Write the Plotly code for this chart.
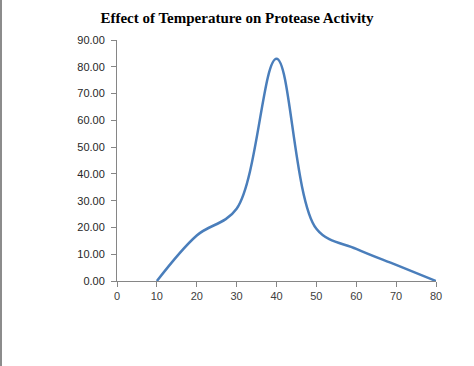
import plotly.graph_objects as go

temperature = [10, 20, 30, 40, 50, 60, 70, 80]
activity = [0.0, 17.0, 27.0, 83.0, 19.5, 12.0, 6.0, 0.0]
y_ticks = [0, 10, 20, 30, 40, 50, 60, 70, 80, 90]
x_ticks = [0, 10, 20, 30, 40, 50, 60, 70, 80]

fig = go.Figure()
fig.add_trace(go.Scatter(
    x=temperature, y=activity, mode="lines",
    line=dict(color="#4A7EBB", width=2.5, shape="spline", smoothing=1.0),
    hoverinfo="skip",
))

W, H = 474, 366
L, R, T, B = 117, 38, 40, 85
pw, ph = W - L - R, H - T - B

fig.update_layout(
    width=W, height=H, autosize=False,
    margin=dict(l=L, r=R, t=T, b=B),
    paper_bgcolor="white", plot_bgcolor="white",
    showlegend=False,
    title=dict(
        text="Effect of Temperature on Protease Activity",
        font=dict(family="Liberation Serif", size=15, color="black", weight="bold"),
        x=237 / W, xanchor="center", xref="container",
        y=1 - 18 / H, yanchor="middle", yref="container",
    ),
    xaxis=dict(
        range=[0, 80], tickvals=x_ticks, ticktext=[str(v) for v in x_ticks],
        showgrid=False, zeroline=False, showline=True, linecolor="#868686", linewidth=1,
        ticks="outside", ticklen=5, tickcolor="#868686",
        tickfont=dict(family="Liberation Sans", size=11, color="#404040"),
        fixedrange=True,
    ),
    yaxis=dict(
        range=[0, 90], tickvals=y_ticks, ticktext=[f"{v:.2f}" for v in y_ticks],
        showgrid=False, zeroline=False, showline=True, linecolor="#868686", linewidth=1,
        ticks="outside", ticklen=5, tickcolor="#868686", ticklabelstandoff=4,
        tickfont=dict(family="Liberation Sans", size=11, color="#262626"),
        fixedrange=True,
    ),
    shapes=[dict(
        type="rect", xref="paper", yref="paper",
        x0=-L / pw, x1=-(L - 2) / pw, y0=-B / ph, y1=1 + T / ph,
        fillcolor="#8C8C8C", line=dict(width=0), layer="above",
    )],
)

fig.write_html("out.html", config={"displayModeBar": False},
               post_script="document.body.style.margin='0';")
